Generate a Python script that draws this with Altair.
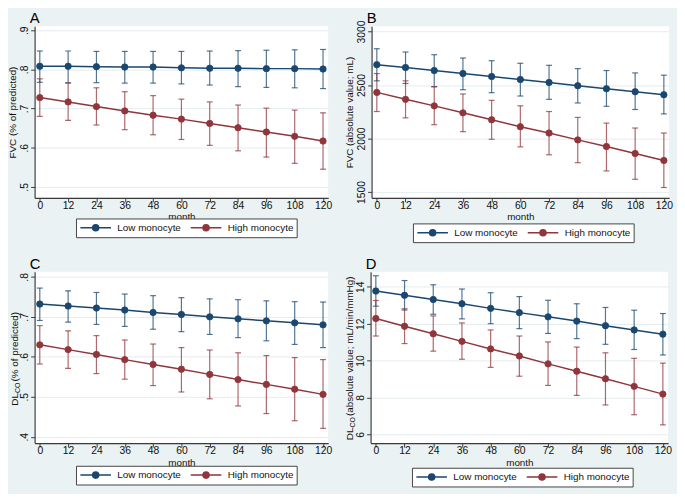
import altair as alt
import pandas as pd

months = [0, 12, 24, 36, 48, 60, 72, 84, 96, 108, 120]
groups = ["Low monocyte", "High monocyte"]
colors = ["#1A476F", "#90353B"]

# Panel A: FVC (% of predicted)
a_low = [0.808, 0.808, 0.807, 0.806, 0.806, 0.804, 0.803, 0.803, 0.802, 0.802, 0.801]
a_low_lo = [0.767, 0.766, 0.766, 0.765, 0.765, 0.763, 0.760, 0.756, 0.754, 0.753, 0.751]
a_low_hi = [0.847, 0.847, 0.846, 0.846, 0.846, 0.846, 0.847, 0.848, 0.849, 0.850, 0.851]
a_high = [0.728, 0.717, 0.705, 0.694, 0.683, 0.673, 0.662, 0.651, 0.640, 0.629, 0.617]
a_high_lo = [0.680, 0.670, 0.658, 0.646, 0.633, 0.621, 0.606, 0.592, 0.576, 0.560, 0.545]
a_high_hi = [0.776, 0.765, 0.753, 0.743, 0.733, 0.724, 0.717, 0.709, 0.701, 0.696, 0.689]

# Panel B: FVC (absolute value; mL)
b_low = [2691, 2664, 2636, 2608, 2580, 2552, 2525, 2494, 2466, 2438, 2410]
b_low_lo = [2540, 2515, 2485, 2457, 2429, 2398, 2367, 2333, 2302, 2272, 2231]
b_low_hi = [2840, 2809, 2784, 2753, 2728, 2704, 2685, 2654, 2636, 2614, 2593]
b_high = [2432, 2367, 2306, 2241, 2176, 2111, 2052, 1988, 1926, 1861, 1796]
b_high_lo = [2253, 2194, 2130, 2065, 1994, 1923, 1849, 1775, 1698, 1620, 1543]
b_high_hi = [2608, 2540, 2485, 2417, 2358, 2306, 2253, 2198, 2145, 2099, 2052]

# Panel C: DLCO (% of predicted)
c_low = [0.732, 0.727, 0.722, 0.717, 0.711, 0.706, 0.700, 0.695, 0.690, 0.685, 0.680]
c_low_lo = [0.691, 0.687, 0.681, 0.676, 0.669, 0.663, 0.656, 0.648, 0.640, 0.631, 0.623]
c_low_hi = [0.772, 0.765, 0.761, 0.757, 0.753, 0.748, 0.745, 0.743, 0.740, 0.738, 0.737]
c_high = [0.630, 0.618, 0.606, 0.593, 0.581, 0.569, 0.556, 0.543, 0.531, 0.519, 0.506]
c_high_lo = [0.582, 0.571, 0.558, 0.544, 0.528, 0.512, 0.495, 0.477, 0.458, 0.440, 0.421]
c_high_hi = [0.678, 0.665, 0.653, 0.642, 0.632, 0.623, 0.617, 0.610, 0.603, 0.598, 0.593]

# Panel D: DLCO (absolute value; mL/min/mmHg)
d_low = [13.77, 13.54, 13.31, 13.08, 12.83, 12.60, 12.37, 12.14, 11.89, 11.66, 11.43]
d_low_lo = [12.95, 12.74, 12.51, 12.26, 12.00, 11.73, 11.47, 11.19, 10.88, 10.60, 10.30]
d_low_hi = [14.60, 14.34, 14.11, 13.88, 13.68, 13.47, 13.27, 13.08, 12.88, 12.73, 12.55]
d_high = [12.28, 11.86, 11.45, 11.04, 10.63, 10.25, 9.82, 9.42, 9.01, 8.60, 8.18]
d_high_lo = [11.33, 10.92, 10.51, 10.07, 9.63, 9.15, 8.65, 8.11, 7.59, 7.06, 6.51]
d_high_hi = [13.26, 12.81, 12.42, 12.04, 11.66, 11.33, 11.01, 10.73, 10.42, 10.12, 9.86]

FONT = "Liberation Sans"
BG = "#EAF2F3"
GRID = "#E4ECEE"
AXIS = "#3a3a3a"
TXT = "#111111"
SYMBOL = "M-3,0H3M-0.6,0A0.6,0.6,0,1,0,0.6,0A0.6,0.6,0,1,0,-0.6,0Z"
H = 174


def make_df(low, low_lo, low_hi, high, high_lo, high_hi):
    rows = []
    for g, est, lo, hi in ((groups[0], low, low_lo, low_hi), (groups[1], high, high_lo, high_hi)):
        for m, e, l, h in zip(months, est, lo, hi):
            rows.append({"month": m, "group": g, "est": e, "lo": l, "hi": h})
    return pd.DataFrame(rows)


def panel(letter, df, ydom, yticks, ytitle, fmt, width, leg_y, sub_title=None):
    xscale = alt.Scale(domain=[-2.2, 122.2], nice=False, zero=False)
    xaxis = alt.Axis(values=months, title="month", grid=False, labelFontSize=10.5,
                     titleFontSize=10, labelPadding=-1, titlePadding=1, tickSize=4,
                     labelFlush=False, titleFontWeight="normal")
    yscale = alt.Scale(domain=ydom, nice=False, zero=False)
    yaxis = alt.Axis(values=yticks, labelExpr=fmt, title=ytitle, grid=True, labelAngle=270,
                     labelFontSize=10.5, titleFontSize=10, labelPadding=1, titlePadding=2,
                     tickSize=4, titleFontWeight="normal", labelFlush=False)
    cs = alt.Scale(domain=groups, range=colors)
    legend = alt.Legend(title=None, orient="none", legendX=42, legendY=leg_y, direction="horizontal",
                        symbolType=SYMBOL, symbolSize=107, symbolStrokeWidth=1.5, symbolOffset=11,
                        symbolOpacity=1,
                        labelOffset=16, labelFontSize=10, labelFont=FONT, labelColor=TXT,
                        columnPadding=6, strokeColor="#444444", fillColor="white", padding=3)
    x = alt.X("month:Q", scale=xscale, axis=xaxis)
    stroke = alt.Stroke("group:N", scale=cs, legend=legend)
    fill = alt.Fill("group:N", scale=cs, legend=legend)
    base = alt.Chart(df)
    bars = base.mark_rule(strokeWidth=1.2, opacity=0.75).encode(
        x=x, y=alt.Y("lo:Q", scale=yscale, axis=yaxis), y2="hi:Q", stroke=stroke)
    cap_lo = base.mark_tick(orient="horizontal", size=6, thickness=1.2, opacity=0.75).encode(
        x=x, y=alt.Y("lo:Q", scale=yscale, axis=yaxis), fill=fill)
    cap_hi = base.mark_tick(orient="horizontal", size=6, thickness=1.2, opacity=0.75).encode(
        x=x, y=alt.Y("hi:Q", scale=yscale, axis=yaxis), fill=fill)
    line = base.mark_line(strokeWidth=1.5).encode(
        x=x, y=alt.Y("est:Q", scale=yscale, axis=yaxis), stroke=stroke)
    pts = base.mark_point(filled=True, size=42, opacity=1, strokeWidth=0.8).encode(
        x=x, y=alt.Y("est:Q", scale=yscale, axis=yaxis), fill=fill, stroke=stroke)
    layers = [bars, cap_lo, cap_hi, line, pts]
    tb = alt.Chart(pd.DataFrame({"t": [0]}))
    # panel letter
    layers.append(tb.mark_text(align="left", baseline="alphabetic", fontSize=15, font=FONT,
                               color="#000000").encode(
        x=alt.value(-5), y=alt.value(-3), text=alt.value(letter)))
    if sub_title is not None:
        main, sub, rest, y0, xb = sub_title
        layers.append(tb.mark_text(angle=270, align="left", baseline="alphabetic", fontSize=10,
                                   font=FONT, color=TXT).encode(
            x=alt.value(xb), y=alt.value(y0), text=alt.value(main)))
        layers.append(tb.mark_text(angle=270, align="left", baseline="alphabetic", fontSize=7,
                                   font=FONT, color=TXT).encode(
            x=alt.value(xb + 2.5), y=alt.value(y0 - 12.8), text=alt.value(sub)))
        layers.append(tb.mark_text(angle=270, align="left", baseline="alphabetic", fontSize=10,
                                   font=FONT, color=TXT).encode(
            x=alt.value(xb), y=alt.value(y0 - 24.5), text=alt.value(rest)))
    return alt.layer(*layers).properties(width=width, height=H)


frac = "substring(format(datum.value, '.1f'), 1)"
integer = "format(datum.value, 'd')"

pA = panel("A", make_df(a_low, a_low_lo, a_low_hi, a_high, a_high_lo, a_high_hi),
           [0.472, 0.910], [0.5, 0.6, 0.7, 0.8, 0.9], "FVC (% of predicted)", frac, 298, 195)
pB = panel("B", make_df(b_low, b_low_lo, b_low_hi, b_high, b_high_lo, b_high_hi),
           [1447, 3049], [1500, 2000, 2500, 3000], "FVC (absolute value; mL)", integer, 302, 200)
pC = panel("C", make_df(c_low, c_low_lo, c_low_hi, c_high, c_high_lo, c_high_hi),
           [0.384, 0.813], [0.4, 0.5, 0.6, 0.7, 0.8], None, frac, 298, 197,
           sub_title=("DL", "CO", " (% of predicted)", 136, -17))
pD = panel("D", make_df(d_low, d_low_lo, d_low_hi, d_high, d_high_lo, d_high_hi),
           [5.52, 14.82], [6, 8, 10, 12, 14], None, integer, 302, 199,
           sub_title=("DL", "CO", " (absolute value; mL/min/mmHg)", 171, -18))

res = dict(fill="independent", stroke="independent")
top = alt.hconcat(pA, pB, spacing=12).resolve_scale(**res)
bottom = alt.hconcat(pC, pD, spacing=12).resolve_scale(**res)
chart = alt.vconcat(top, bottom, spacing=14).resolve_scale(**res).properties(
    background=BG, padding={"left": 0, "top": 0, "right": 4, "bottom": 3}
).configure_view(stroke=None, fill="white").configure_axis(
    domainColor=AXIS, tickColor=AXIS, gridColor=GRID, labelColor=TXT, titleColor=TXT,
    labelFont=FONT, titleFont=FONT, domainWidth=1.2, tickWidth=1
).configure_legend(labelFont=FONT)

chart.save("out.html", embed_options={"renderer": "svg", "actions": False})
